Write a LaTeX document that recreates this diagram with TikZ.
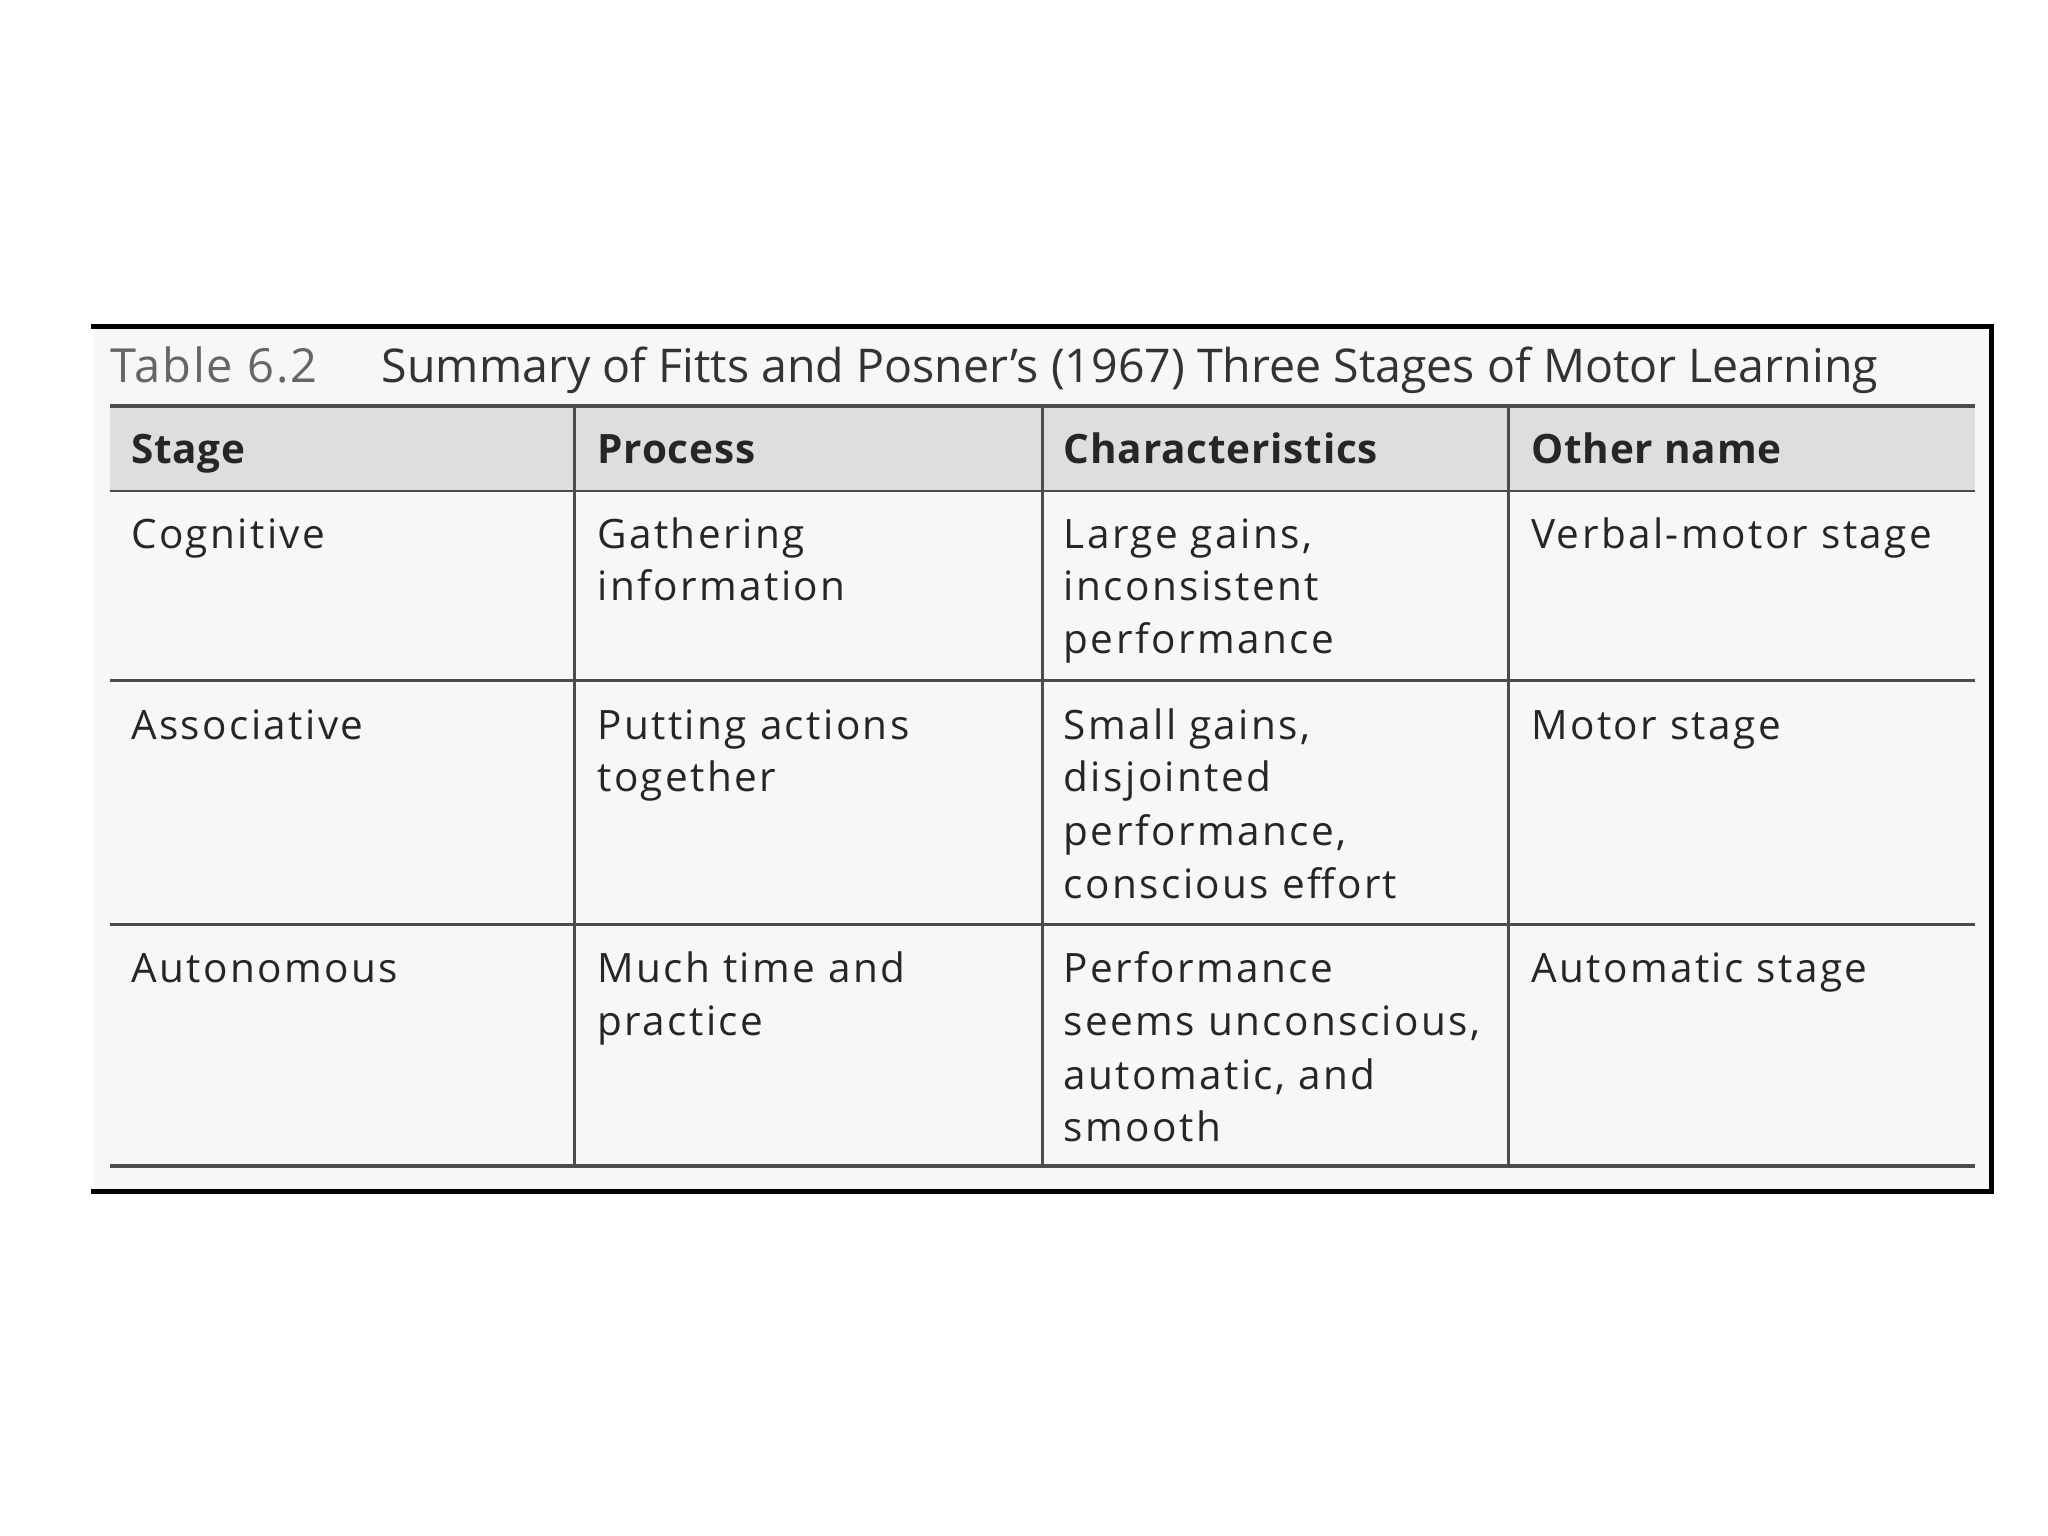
\documentclass[tikz,border=0pt]{standalone}
\usepackage{fontspec}
\setmainfont{Open Sans}
\begin{document}
\begin{tikzpicture}[x=0.5pt,y=-0.5pt,
  cell/.style={anchor=base west,inner sep=0pt,font=\fontsize{15.5}{18}\selectfont\addfontfeature{LetterSpace=6},text=black!85},
  hcell/.style={cell,font=\fontsize{15.5}{18}\selectfont\bfseries\addfontfeature{LetterSpace=2}},
  rule/.style={line width=1pt,draw=black!70},
  frame/.style={line width=2pt,draw=black}]
\useasboundingbox (0,0) rectangle (1568,1176);
\fill[white] (0,0) rectangle (1568,1176);
% frame
\draw[frame] (70,250) -- (1525,250) -- (1525,912) -- (70,912);
\fill[black!3] (72,252) rectangle (1523,910);
% header band
\fill[black!13] (84,311) rectangle (1512,376);
\draw[rule,line width=1.6pt] (84,311) -- (1512,311);
\draw[rule] (84,376) -- (1512,376);
\draw[rule] (84,521) -- (1512,521);
\draw[rule] (84,708) -- (1512,708);
\draw[rule,line width=1.6pt] (84,893) -- (1512,893);
\foreach \x in {440,798,1155} \draw[rule] (\x,311) -- (\x,893);
% title
\node[cell,text=black!60,font=\fontsize{18}{20}\selectfont\addfontfeature{LetterSpace=4}] (t1) at (84,293) {Table 6.2};
\node[cell,text=black!80,font=\fontsize{17.8}{20}\selectfont] (t2) at (292,293) {Summary of Fitts and Posner’s (1967) Three Stages of Motor Learning};
% header
\node[hcell] (h1) at (100,355) {Stage};
\node[hcell] (h2) at (457,355) {Process};
\node[hcell] (h3) at (814,355) {Characteristics};
\node[hcell] (h4) at (1172,355) {Other name};
% row 1
\node[cell] (a1) at (100,420) {Cognitive};
\node[cell] (a2a) at (457,420) {Gathering};
\node[cell] (a2b) at (457,460) {information};
\node[cell] (a3a) at (814,420) {Large gains,};
\node[cell] (a3b) at (814,460) {inconsistent};
\node[cell] (a3c) at (814,500) {performance};
\node[cell] (a4) at (1172,420) {Verbal-motor stage};
% row 2
\node[cell] (b1) at (100,566) {Associative};
\node[cell] (b2a) at (457,566) {Putting actions};
\node[cell] (b2b) at (457,606) {together};
\node[cell] (b3a) at (814,566) {Small gains,};
\node[cell] (b3b) at (814,606) {disjointed};
\node[cell] (b3c) at (814,647) {performance,};
\node[cell] (b3d) at (814,688) {conscious effort};
\node[cell] (b4) at (1172,566) {Motor stage};
% row 3
\node[cell] (c1) at (100,752) {Autonomous};
\node[cell] (c2a) at (457,752) {Much time and};
\node[cell] (c2b) at (457,793) {practice};
\node[cell] (c3a) at (814,752) {Performance};
\node[cell] (c3b) at (814,793) {seems unconscious,};
\node[cell] (c3c) at (814,834) {automatic, and};
\node[cell] (c3d) at (814,874) {smooth};
\node[cell] (c4) at (1172,752) {Automatic stage};
\end{tikzpicture}
\end{document}
